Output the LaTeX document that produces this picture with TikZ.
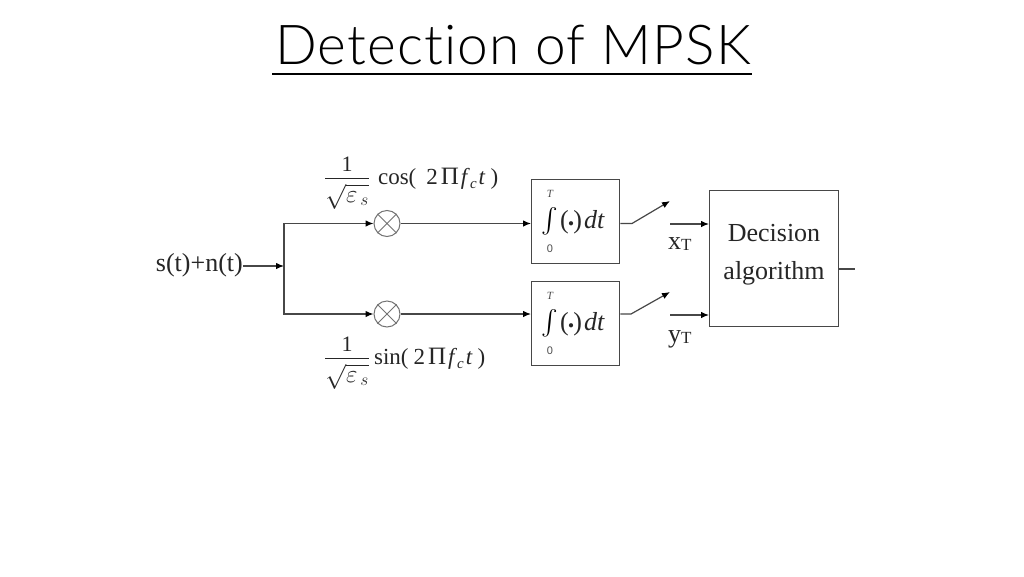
\documentclass[tikz,border=0pt]{standalone}
\usepackage{amsmath}
\usepackage{fontspec}
\setmainfont{Liberation Serif}
\newfontfamily\titlefont[Ligatures=NoCommon,LetterSpace=2]{Lato Light}
\newfontfamily\labelsans{Liberation Sans}
\usetikzlibrary{arrows.meta}
\colorlet{inkline}{black!72}
\tikzset{
  wire/.style={draw=inkline,line width=1.2pt},
  arrowwire/.style={wire,-{Latex[length=8pt,width=6.5pt,black]}},
  blockbox/.style={draw=inkline,line width=1.3pt,inner sep=0pt,anchor=north west},
  mixer/.style={draw=black!55,line width=1pt,circle,minimum size=26pt,inner sep=0pt},
  lbl/.style={inner sep=0pt,font=\fontsize{26}{30}\selectfont,text=black!85},
  eqn/.style={inner sep=0pt,anchor=west,text=black!85,font=\fontsize{23}{27}\selectfont},
  limit/.style={inner sep=0pt,text=black!70},
}
\newcommand{\ampl}{\mbox{\fontsize{27}{30}\selectfont$\genfrac{}{}{0.9pt}{0}{\smash{\raisebox{-3pt}{\fontsize{22}{24}\selectfont 1}}}{\sqrt{\varepsilon_{\,s}}}$}}
\newcommand{\carrier}[3]{\ampl\hspace{#1}#2(\hspace{#3}2\hspace{3pt}\mbox{\fontsize{25}{27}\selectfont Π}\hspace{2pt}\textit{f}\raisebox{-4pt}{\fontsize{15}{16}\selectfont\textit{c}}\hspace{2pt}\textit{t}\hspace{5pt})}
\newcommand{\subT}{\raisebox{-1.5pt}{\fontsize{17}{20}\selectfont T}}
\begin{document}
\begin{tikzpicture}[x=1pt,y=-1pt]
\useasboundingbox (0,0) rectangle (1024,576);
\fill[white] (0,0) rectangle (1024,576);
% title
\node[inner sep=0pt,anchor=base,text=black] (title) at (513,64) {\titlefont\fontsize{55}{60}\selectfont Detection of MPSK};
\coordinate (ul1) at (272,74);
\coordinate (ul2) at (752,74);
\draw[black,line width=2.6pt] (ul1) -- (ul2);
% input
\node[lbl,anchor=base east] (input) at (243,271) {s(t)+n(t)};
\coordinate (fork) at (284,266);
\coordinate (forkT) at (284,223.5);
\coordinate (forkB) at (284,314);
\draw[arrowwire] (input.east |- fork) -- (fork);
% mixers
\node[mixer] (m1) at (387,223.5) {};
\node[mixer] (m2) at (387,314) {};
\draw[draw=black!55,line width=1pt] (m1.45) -- (m1.225) (m1.135) -- (m1.315);
\draw[draw=black!55,line width=1pt] (m2.45) -- (m2.225) (m2.135) -- (m2.315);
\draw[wire,line width=1.4pt,line cap=rect] (forkT) -- (forkB);
\draw[arrowwire] (forkT) -- (m1.west);
\draw[arrowwire] (forkB) -- (m2.west);
% carriers
\node[eqn] (c1) at (324,189) {\carrier{8pt}{cos}{10pt}};
\node[eqn] (c2) at (324,369) {\carrier{4pt}{sin}{5pt}};
% integrators
\node[blockbox,minimum width=88pt,minimum height=84pt] (int1) at (531,179) {};
\node[blockbox,minimum width=88pt,minimum height=84pt] (int2) at (531,281) {};
\foreach \b in {int1,int2}{
  \node[inner sep=0pt] at ([xshift=19pt,yshift=0pt]\b.west) {\fontsize{34}{36}\selectfont$\textstyle\int$};
  \node[inner sep=0pt,anchor=west,text=black!85] at ([xshift=29pt,yshift=-1pt]\b.west) {\fontsize{26}{28}\selectfont(\raisebox{3pt}{\hspace{-1pt}\textbf{.}\hspace{-1pt}})\hspace{2pt}\textit{dt}};
  \node[limit,font=\itshape\fontsize{11}{12}\selectfont] at ([xshift=19pt,yshift=-15pt]\b.north west) {T};
  \node[limit,font=\labelsans\fontsize{11}{12}\selectfont] at ([xshift=19pt,yshift=16pt]\b.south west) {0};
}
\draw[arrowwire] (m1.east) -- (int1.west |- m1.east);
\draw[arrowwire] (m2.east) -- (int2.west |- m2.east);
% switches
\coordinate (s1a) at (632,223.5);
\coordinate (s1b) at (670,201);
\coordinate (s2a) at (631,314);
\coordinate (s2b) at (670,292);
\draw[arrowwire] (int1.east |- s1a) -- (s1a) -- (s1b);
\draw[arrowwire] (int2.east |- s2a) -- (s2a) -- (s2b);
% decision
\node[blockbox,minimum width=129pt,minimum height=136pt] (dec) at (709,190) {};
\node[lbl,anchor=base] (d1) at (774,241) {Decision};
\node[lbl,anchor=base] (d2) at (774,279) {algorithm};
\coordinate (x0) at (670,224);
\coordinate (y0) at (670,315);
\coordinate (out) at (855,269);
\draw[arrowwire] (x0) -- (dec.west |- x0);
\draw[arrowwire] (y0) -- (dec.west |- y0);
\draw[wire] (dec.east |- out) -- (out);
\node[lbl,anchor=base west] (xt) at (668,249) {x\subT};
\node[lbl,anchor=base west] (yt) at (668,342) {y\subT};
\end{tikzpicture}
\end{document}
